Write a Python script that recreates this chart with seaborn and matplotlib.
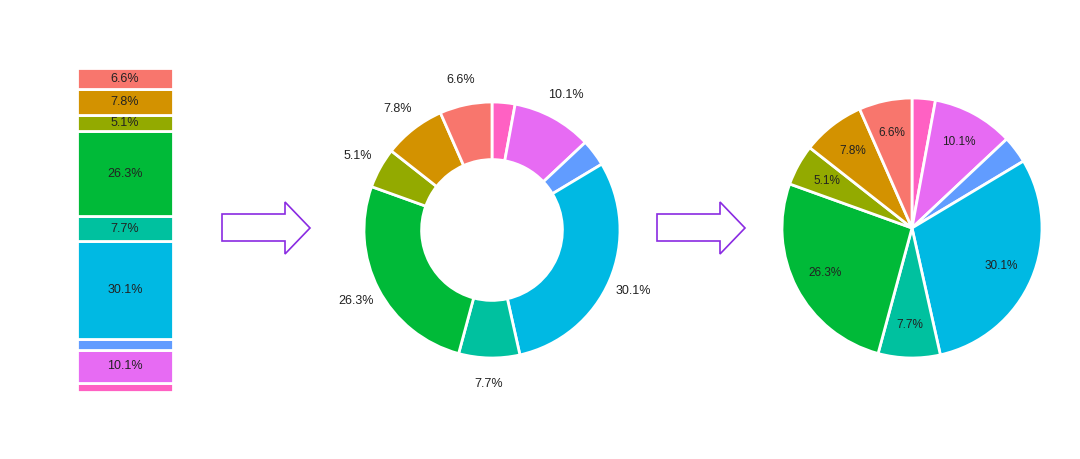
import matplotlib
matplotlib.use("Agg")
import matplotlib.pyplot as plt
import seaborn as sns
from matplotlib.patches import Polygon

sns.set_theme(style="white")
plt.rcParams['font.family'] = ['Liberation Sans', 'DejaVu Sans']

categories = ["A", "B", "C", "D", "E", "F", "G", "H", "I"]  # pie clockwise from top / bar bottom->top
values = [2.9, 10.1, 3.4, 30.1, 7.7, 26.3, 5.1, 7.8, 6.6]
colors = ["#FF61C3", "#E76BF3", "#619CFF", "#00B9E3", "#00C19F",
          "#00BA38", "#93AA00", "#D39200", "#F8766D"]
labels = [f"{v:.1f}%" if v >= 5 else "" for v in values]

W, H = 1080, 459
fig = plt.figure(figsize=(W / 100, H / 100), dpi=100)
fig.patch.set_facecolor("white")

def px_axes(left, top, w, h):
    return fig.add_axes([left / W, (H - top - h) / H, w / W, h / H])

# stacked bar
axb = px_axes(77, 68, 96, 324)
bottom = 0
for v, c, lab in zip(values, colors, labels):
    axb.bar(0, v, bottom=bottom, width=1, color=c, edgecolor="white", linewidth=2)
    if lab:
        axb.text(0, bottom + v / 2, lab, ha="center", va="center", fontsize=9, color="#222222")
    bottom += v
axb.set_xlim(-0.5, 0.5)
axb.set_ylim(0, sum(values))
axb.axis("off")

# donut
R = 1.5
axd = px_axes(492 - 192, 230 - 192, 384, 384)
axd.pie(values, colors=colors, labels=labels, startangle=90, counterclock=False,
        labeldistance=1.2, radius=1,
        wedgeprops=dict(width=0.45, edgecolor="white", linewidth=2),
        textprops=dict(fontsize=9, color="#222222", ha="center", va="center"))
axd.set_xlim(-R, R); axd.set_ylim(-R, R); axd.set_aspect("equal"); axd.axis("off")

# pie
axp = px_axes(912 - 195, 228 - 195, 390, 390)
axp.pie(values, colors=colors, labels=labels, startangle=90, counterclock=False,
        labeldistance=0.75, radius=1,
        wedgeprops=dict(edgecolor="white", linewidth=2),
        textprops=dict(fontsize=8.5, color="#222222", ha="center", va="center"))
axp.set_xlim(-R, R); axp.set_ylim(-R, R); axp.set_aspect("equal"); axp.axis("off")

# arrows (block outlines)
def arrow(x0):
    xs = [x0, x0 + 63, x0 + 63, x0 + 88, x0 + 63, x0 + 63, x0]
    ys = [214, 214, 202, 228, 254, 241, 241]
    pts = [(x / W, (H - y) / H) for x, y in zip(xs, ys)]
    fig.patches.append(Polygon(pts, closed=True, transform=fig.transFigure,
                               facecolor="white", edgecolor="#8A2BE2", linewidth=1.2))
arrow(222)
arrow(657)

fig.savefig("out.png", dpi=100, facecolor="white")
